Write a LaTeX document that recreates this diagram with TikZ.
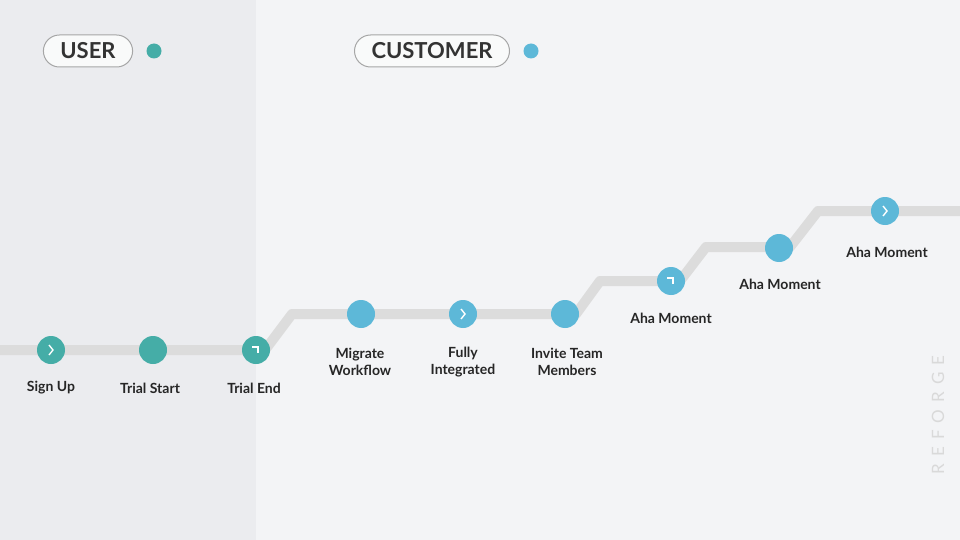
\documentclass[tikz,border=0pt]{standalone}
\usepackage{fontspec}
\setmainfont{Lato}
\begin{document}
\begin{tikzpicture}[x=1pt,y=-1pt,
  lbl/.style={font=\bfseries\fontsize{14}{16.5}\selectfont, text=black!85, align=center},
  teal/.style={circle,fill=tealc,minimum size=28pt,inner sep=0},
  blue/.style={circle,fill=bluec,minimum size=28pt,inner sep=0},
  pill/.style={draw=gray!70,line width=1pt,rounded corners=16pt,fill=white!50!bgr,minimum height=32pt,inner xsep=17pt,font=\bfseries\fontsize{22}{24}\selectfont,text=black!80},
  icon/.style={white,line width=1.4pt}]
\definecolor{tealc}{HTML}{45ADA7}
\definecolor{bluec}{HTML}{5DB8D8}
\definecolor{bgr}{HTML}{F3F4F6}
\definecolor{bgl}{HTML}{EBECEF}
\definecolor{track}{HTML}{DCDCDC}
\fill[bgr] (0,0) rectangle (960,540);
\useasboundingbox (0,0) rectangle (960,540);
\fill[bgl] (0,0) rectangle (256,540);
\draw[track,line width=10pt,line join=round] (0,350) -- (265,350) -- (292,314) -- (576,314) -- (600,281) -- (680,281) -- (706,247) -- (790,247) -- (818,211) -- (960,211);
\node[pill] (user) at (88,51) {USER};
\node[circle,fill=tealc,minimum size=15pt,inner sep=0] (ud) at (154,51) {};
\node[pill] (cust) at (432,51) {CUSTOMER};
\node[circle,fill=bluec,minimum size=15pt,inner sep=0] (cd) at (531,51) {};
\node[teal] (n1) at (51,350) {};
\node[teal] (n2) at (153,350) {};
\node[teal] (n3) at (256,350) {};
\node[blue] (n4) at (361,314) {};
\node[blue] (n5) at (463,314) {};
\node[blue] (n6) at (565,314) {};
\node[blue] (n7) at (671,281) {};
\node[blue] (n8) at (779,248) {};
\node[blue] (n9) at (885,211) {};
\draw[icon] ([shift={(-2,-5)}]n1.center) -- ++(4,5) -- ++(-4,5);
\draw[icon] ([shift={(-2,-5)}]n5.center) -- ++(4,5) -- ++(-4,5);
\draw[icon] ([shift={(-2,-5)}]n9.center) -- ++(4,5) -- ++(-4,5);
\draw[icon] ([shift={(-4,-3)}]n3.center) -- ++(6,0) -- ++(0,6);
\draw[icon] ([shift={(-4,-3)}]n7.center) -- ++(6,0) -- ++(0,6);
\node[lbl] (l1) at (51,388) {Sign Up};
\node[lbl] (l2) at (150,388) {Trial Start};
\node[lbl] (l3) at (254,388) {Trial End};
\node[lbl] (l4) at (360,362) {Migrate\\Workflow};
\node[lbl] (l5) at (463,362) {Fully\\Integrated};
\node[lbl] (l6) at (567,362) {Invite Team\\Members};
\node[lbl] (l7) at (671,318) {Aha Moment};
\node[lbl] (l8) at (780,284) {Aha Moment};
\node[lbl] (l9) at (887,252) {Aha Moment};
\node[rotate=90,text=black!15,font=\fontsize{17}{17}\selectfont] (rf) at (938,415) {R\hspace{7pt}E\hspace{7pt}F\hspace{7pt}O\hspace{7pt}R\hspace{7pt}G\hspace{7pt}E};
\end{tikzpicture}
\end{document}
